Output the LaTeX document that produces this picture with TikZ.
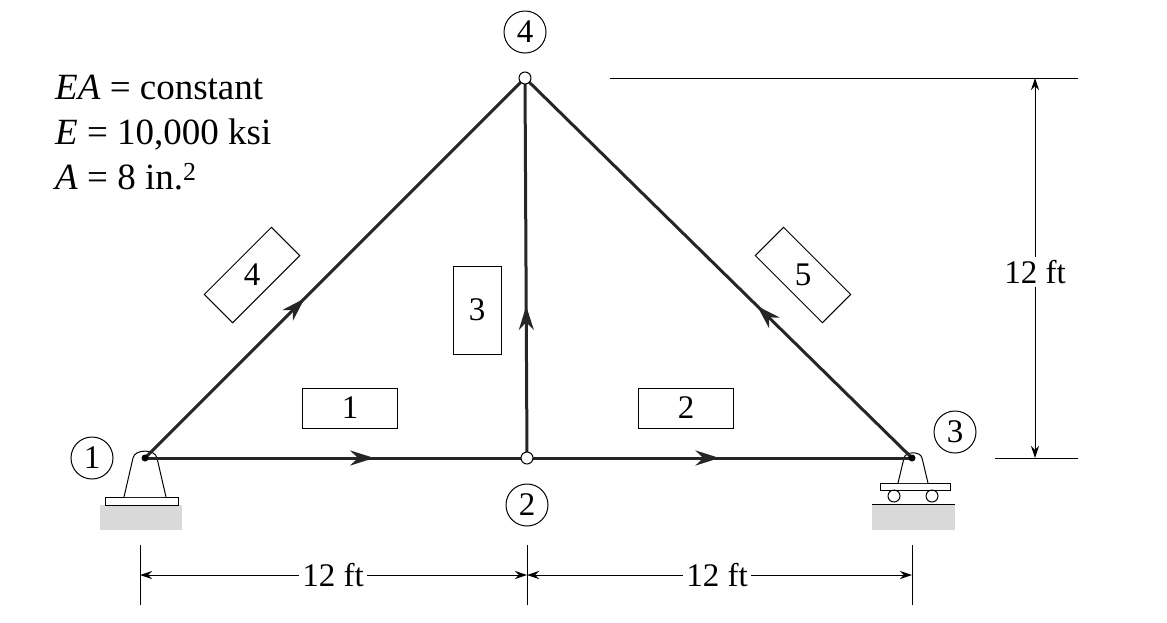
\documentclass[tikz,border=0pt]{standalone}
\usepackage{fontspec}
\setmainfont{Liberation Serif}
\usetikzlibrary{decorations.markings,arrows.meta}
\begin{document}
\begin{tikzpicture}[x=1pt,y=-1pt,
  font=\fontsize{33}{38}\selectfont,
  mem/.style={line width=3pt,draw=black!85},
  midarr/.style={postaction={decorate},decoration={markings,mark=at position #1 with {\arrow{Stealth[length=24pt,width=15pt]}}}},
  lab/.style={draw,circle,line width=1pt,minimum size=42pt,inner sep=0pt},
  mbox/.style={draw,line width=1pt,minimum width=95pt,minimum height=40pt,inner sep=0pt},
  dim/.style={line width=1pt}]
\useasboundingbox (0,0) rectangle (1167,622);
\coordinate (n1) at (145,458);
\coordinate (n2) at (527,458);
\coordinate (n3) at (912,458);
\coordinate (n4) at (525,78);
% supports
\fill[black!15] (100,505) rectangle (182,530);
\draw[line width=1pt,fill=white] (105,497) rectangle (178,505);
\draw[line width=1pt,fill=white] (124,497) -- (133,458) to[out=80,in=100] (157,458) -- (166,497);
\fill[black!15] (872,505) rectangle (955,530);
\draw[line width=1pt] (872,504) -- (955,504);
\draw[line width=1pt,fill=white] (880,483) rectangle (950,490);
\draw[line width=1pt] (894,496) circle (6) (932,496) circle (6);
\draw[line width=1pt,fill=white] (898,483) -- (904,458) to[out=80,in=100] (922,458) -- (928,483);
% members
\draw[mem,midarr=0.6] (n1) -- (n2);
\draw[mem,midarr=0.5] (n2) -- (n3);
\draw[mem,midarr=0.4] (n2) -- (n4);
\draw[mem,midarr=0.42] (n1) -- (n4);
\draw[mem,midarr=0.4] (n3) -- (n4);
\fill (n1) circle (3.5);
\fill (n3) circle (3.5);
\draw[line width=1pt,fill=white] (n2) circle (6);
\draw[line width=1pt,fill=white] (n4) circle (6);
% joint labels
\node[lab] (l1) at (92,458) {1};
\node[lab] (l2) at (527,505) {2};
\node[lab] (l3) at (955,432) {3};
\node[lab] (l4) at (525,32) {4};
% member labels
\node[mbox] (m1) at (350,408) {1};
\node[mbox] (m2) at (686,408) {2};
\node[mbox,minimum width=48pt,minimum height=88pt] (m3) at (477,310) {3};
\node[mbox,rotate=45] (m4) at (252,275) {\rotatebox{-45}{4}};
\node[mbox,rotate=-45] (m5) at (803,275) {\rotatebox{45}{5}};
% properties
\node[anchor=west,align=left,inner sep=0pt,font=\fontsize{37}{45}\selectfont] (props) at (55,133) {\textit{EA} = constant\\ \textit{E} = 10,000 ksi\\ \textit{A} = 8 in.\textsuperscript{2}};
% vertical dimension
\coordinate (t1) at (610,78); \coordinate (t2) at (1078,78);
\coordinate (b1) at (995,458); \coordinate (b2) at (1078,458);
\draw[dim] (t1) -- (t2);
\draw[dim] (b1) -- (b2);
\node (vd) at (1035,272) {12 ft};
\draw[dim,-{Stealth[length=12pt,width=8pt]}] (vd.north) -- (1035,78);
\draw[dim,-{Stealth[length=12pt,width=8pt]}] (vd.south) -- (1035,458);
% horizontal dimensions
\coordinate (k1) at (140,545); \coordinate (k1b) at (140,605);
\coordinate (k2) at (527,545); \coordinate (k2b) at (527,605);
\coordinate (k3) at (912,545); \coordinate (k3b) at (912,605);
\draw[dim] (k1) -- (k1b) (k2) -- (k2b) (k3) -- (k3b);
\node (hd1) at (333,575) {12 ft};
\node (hd2) at (717,575) {12 ft};
\draw[dim,-{Stealth[length=12pt,width=8pt]}] (hd1.west) -- (140,575);
\draw[dim,-{Stealth[length=12pt,width=8pt]}] (hd1.east) -- (527,575);
\draw[dim,-{Stealth[length=12pt,width=8pt]}] (hd2.west) -- (527,575);
\draw[dim,-{Stealth[length=12pt,width=8pt]}] (hd2.east) -- (912,575);
\end{tikzpicture}
\end{document}
